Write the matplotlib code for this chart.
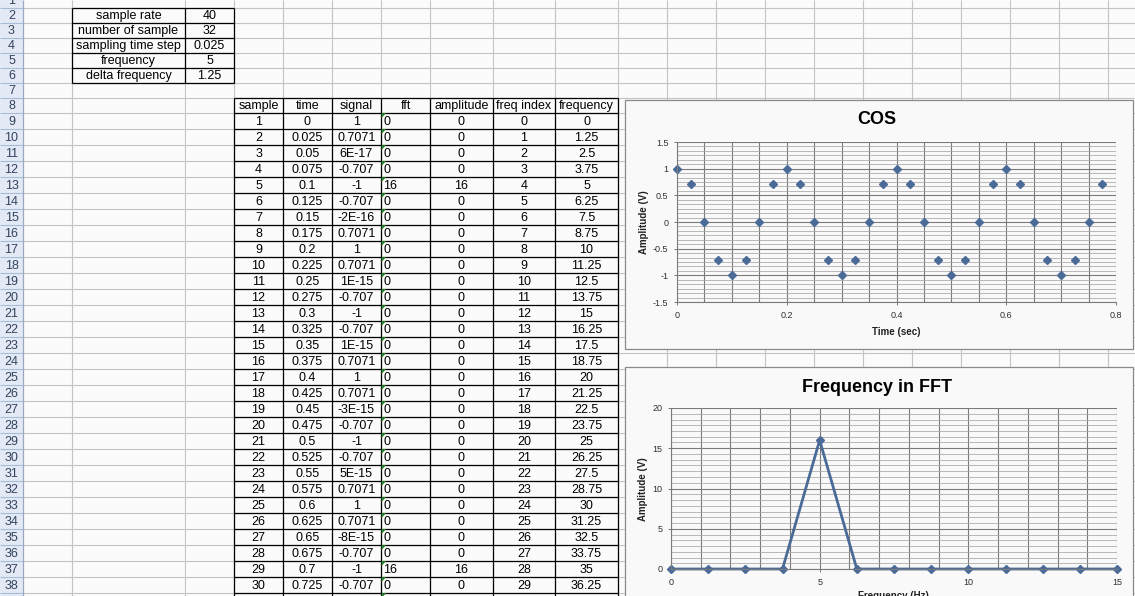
"""
Spreadsheet view of a 32-sample cosine and its FFT, with the two Excel charts.
"""

import matplotlib
matplotlib.use("Agg")
import matplotlib.pyplot as plt
from matplotlib.patches import Rectangle, Polygon
from matplotlib.ticker import MultipleLocator, FuncFormatter

plt.rcParams.update({
    "font.family": ["Liberation Sans", "DejaVu Sans"],
    "axes.unicode_minus": False,
})

W, H = 1135, 596

# ---------------------------------------------------------------------------
# Data
# ---------------------------------------------------------------------------
param_labels = ["sample rate", "number of sample", "sampling time step",
                "frequency", "delta frequency"]
param_values = ["40", "32", "0.025", "5", "1.25"]

header_labels = ["sample", "time", "signal", "fft", "amplitude",
                 "freq index", "frequency"]

sample_no = [1, 2, 3, 4, 5, 6, 7, 8, 9, 10, 11, 12, 13, 14, 15,
             16, 17, 18, 19, 20, 21, 22, 23, 24, 25, 26, 27, 28, 29, 30]

# full 32-sample record (the COS chart uses all of it)
t_sec = [0, 0.025, 0.05, 0.075, 0.1, 0.125, 0.15, 0.175,
         0.2, 0.225, 0.25, 0.275, 0.3, 0.325, 0.35, 0.375,
         0.4, 0.425, 0.45, 0.475, 0.5, 0.525, 0.55, 0.575,
         0.6, 0.625, 0.65, 0.675, 0.7, 0.725, 0.75, 0.775]
signal_v = [1, 0.7071, 0, -0.7071, -1, -0.7071, 0, 0.7071,
            1, 0.7071, 0, -0.7071, -1, -0.7071, 0, 0.7071,
            1, 0.7071, 0, -0.7071, -1, -0.7071, 0, 0.7071,
            1, 0.7071, 0, -0.7071, -1, -0.7071, 0, 0.7071]

signal_txt = ["1", "0.7071", "6E-17", "-0.707", "-1", "-0.707", "-2E-16", "0.7071",
              "1", "0.7071", "1E-15", "-0.707", "-1", "-0.707", "1E-15", "0.7071",
              "1", "0.7071", "-3E-15", "-0.707", "-1", "-0.707", "5E-15", "0.7071",
              "1", "0.7071", "-8E-15", "-0.707", "-1", "-0.707"]
fft_txt = ["0", "0", "0", "0", "16", "0", "0", "0", "0", "0",
           "0", "0", "0", "0", "0", "0", "0", "0", "0", "0",
           "0", "0", "0", "0", "0", "0", "0", "0", "16", "0"]
amplitude = [0, 0, 0, 0, 16, 0, 0, 0, 0, 0,
             0, 0, 0, 0, 0, 0, 0, 0, 0, 0,
             0, 0, 0, 0, 0, 0, 0, 0, 16, 0]
freq_index = [0, 1, 2, 3, 4, 5, 6, 7, 8, 9, 10, 11, 12, 13, 14,
              15, 16, 17, 18, 19, 20, 21, 22, 23, 24, 25, 26, 27, 28, 29]
frequency = [0, 1.25, 2.5, 3.75, 5, 6.25, 7.5, 8.75, 10, 11.25,
             12.5, 13.75, 15, 16.25, 17.5, 18.75, 20, 21.25, 22.5, 23.75,
             25, 26.25, 27.5, 28.75, 30, 31.25, 32.5, 33.75, 35, 36.25]
N_FFT_PLOT = 13   # FFT chart shows bins up to 15 Hz

# ---------------------------------------------------------------------------
# Colours
# ---------------------------------------------------------------------------
SHEET_BG   = "#fbfbfb"
SHEET_GRID = "#c4c4c4"
HDR_BG     = "#e3eaf5"
HDR_LINE   = "#a9bcd6"
HDR_TXT    = "#34425c"
CHART_BG   = "#f9f9f9"
FRAME      = "#8a8a8a"
GRID_MAJ   = "#7a7a7a"
GRID_MIN   = "#a6a6a6"
SERIES     = "#4a6b98"
ERR_GREEN  = "#23802a"

CELL_FS = 9.0

# column edges (px) and row geometry of the sheet
col_edges = [23, 72, 185, 234, 283, 332, 381, 430, 493, 555, 618,
             667, 716, 765, 814, 863, 912, 961, 1010, 1059, 1108]


def row_bottom(k):
    if k <= 0:
        return -7.5
    if k <= 8:
        return 7.5 + 15 * (k - 1)
    return 112.5 + 16 * (k - 8)


def row_top(k):
    return row_bottom(k - 1)


def row_mid(k):
    return 0.5 * (row_top(k) + row_bottom(k))


fig = plt.figure(figsize=(W / 100, H / 100), dpi=100, facecolor=SHEET_BG)
ax = fig.add_axes([0, 0, 1, 1])
ax.set_xlim(0, W)
ax.set_ylim(H, 0)
ax.axis("off")
ax.add_patch(Rectangle((0, 0), W, H, facecolor=SHEET_BG, edgecolor="none", zorder=0))

# --- sheet gridlines -------------------------------------------------------
ax.vlines(col_edges[1:], 0, H, colors=SHEET_GRID, lw=0.8, zorder=1)
ax.hlines([row_bottom(k) for k in range(1, 40)], 23, W, colors=SHEET_GRID, lw=0.8, zorder=1)

# --- row header column -----------------------------------------------------
ax.add_patch(Rectangle((0, 0), 23, H, facecolor=HDR_BG, edgecolor="none", zorder=2))
ax.hlines([row_bottom(k) for k in range(1, 40)], 0, 23, colors=HDR_LINE, lw=0.8, zorder=3)
ax.vlines([23], 0, H, colors="#9aa9bf", lw=0.9, zorder=3)
for k in range(1, 39):
    ax.text(11.5, row_mid(k) + 4.4, str(k), ha="center", va="baseline",
            fontsize=CELL_FS, color=HDR_TXT, zorder=4)

# --- parameter block (B2:C6) ----------------------------------------------
BLK = "#000000"
ax.vlines([72, 185, 234], row_top(2), row_bottom(6), colors=BLK, lw=0.9, zorder=4)
ax.hlines([row_top(2)] + [row_bottom(k) for k in range(2, 7)], 72, 234,
          colors=BLK, lw=0.9, zorder=4)
for i, (lab, val) in enumerate(zip(param_labels, param_values)):
    y = row_mid(2 + i) + 4.4
    ax.text(128.5, y, lab, ha="center", va="baseline", fontsize=CELL_FS, zorder=5)
    ax.text(209.5, y, val, ha="center", va="baseline", fontsize=CELL_FS, zorder=5)

# --- main table (D8:J...) --------------------------------------------------
tbl_cols = [234, 283, 332, 381, 430, 493, 555, 618]
ax.vlines(tbl_cols, row_top(8), H + 10, colors=BLK, lw=0.9, zorder=4)
ax.hlines([row_top(8)] + [row_bottom(k) for k in range(8, 40)], 234, 618,
          colors=BLK, lw=0.9, zorder=4)
centers = [0.5 * (tbl_cols[j] + tbl_cols[j + 1]) for j in range(7)]
for j, lab in enumerate(header_labels):
    ax.text(centers[j], row_mid(8) + 4.4, lab, ha="center", va="baseline",
            fontsize=CELL_FS, zorder=5)

for i in range(len(sample_no)):
    r = 9 + i
    y = row_mid(r) + 4.4
    cells = [str(sample_no[i]), f"{t_sec[i]:g}", signal_txt[i], None,
             str(amplitude[i]), str(freq_index[i]), f"{frequency[i]:g}"]
    for j, txt in enumerate(cells):
        if txt is None:
            continue
        ax.text(centers[j], y, txt, ha="center", va="baseline",
                fontsize=CELL_FS, zorder=5)
    # fft column holds text-formatted numbers: left aligned
    ax.text(383, y, fft_txt[i], ha="left", va="baseline", fontsize=CELL_FS, zorder=5)

# green "number stored as text" markers
for r in range(9, 40):
    t = row_top(r) + 0.6
    ax.add_patch(Polygon([(381.6, t), (386.2, t), (381.6, t + 4.6)], closed=True,
                         facecolor=ERR_GREEN, edgecolor="none", zorder=6))

# --- chart frames ---------------------------------------------------------
ax.add_patch(Rectangle((625, 100), 508, 249, facecolor=CHART_BG,
                       edgecolor=FRAME, lw=0.9, zorder=7))
ax.add_patch(Rectangle((625, 367.3), 508, 260, facecolor=CHART_BG,
                       edgecolor=FRAME, lw=0.9, zorder=7))

ax.text(877, 124.3, "COS", ha="center", va="baseline", fontsize=13,
        fontweight="bold", zorder=8)
ax.text(876.8, 391.6, "Frequency in FFT", ha="center", va="baseline", fontsize=13,
        fontweight="bold", zorder=8)
ax.text(896, 335, "Time (sec)", ha="center", va="baseline", fontsize=7,
        fontweight="bold", color="#222222", zorder=8)
ax.text(893.7, 599, "Frequency (Hz)", ha="center", va="baseline", fontsize=7,
        fontweight="bold", color="#222222", zorder=8)
ax.text(644, 222.5, "Amplitude (V)", ha="center", va="center", rotation=90,
        fontsize=7, fontweight="bold", color="#222222", zorder=8)
ax.text(643, 489, "Amplitude (V)", ha="center", va="center", rotation=90,
        fontsize=7, fontweight="bold", color="#222222", zorder=8)


def px_axes(left, top, right, bottom):
    return fig.add_axes([left / W, 1 - bottom / H, (right - left) / W, (bottom - top) / H])


def style_chart(a, xlim, xmaj, xmin, ylim, ymaj, ymin):
    a.set_facecolor(CHART_BG)
    a.set_xlim(*xlim)
    a.set_ylim(*ylim)
    a.xaxis.set_major_locator(MultipleLocator(xmaj))
    a.xaxis.set_minor_locator(MultipleLocator(xmin))
    a.yaxis.set_major_locator(MultipleLocator(ymaj))
    a.yaxis.set_minor_locator(MultipleLocator(ymin))
    fmt = FuncFormatter(lambda v, _: f"{v:g}")
    a.xaxis.set_major_formatter(fmt)
    a.yaxis.set_major_formatter(fmt)
    a.set_axisbelow(True)
    a.grid(which="major", color=GRID_MAJ, lw=0.8)
    a.grid(which="minor", axis="x", color=GRID_MAJ, lw=0.8)
    a.grid(which="minor", axis="y", color=GRID_MIN, lw=0.55)
    a.tick_params(which="minor", length=0)
    a.tick_params(which="major", length=2.2, width=0.7, color=GRID_MAJ,
                  labelsize=6.5, labelcolor="#303030")
    a.tick_params(axis="y", pad=4.0)
    a.tick_params(axis="x", pad=4.6)
    for s in ("top", "right"):
        a.spines[s].set_visible(False)
    for s in ("left", "bottom"):
        a.spines[s].set_color(GRID_MAJ)
        a.spines[s].set_linewidth(0.8)


# --- COS chart -------------------------------------------------------------
ax1 = px_axes(677, 142, 1116, 302)
style_chart(ax1, (0, 0.8), 0.2, 0.05, (-1.5, 1.5), 0.5, 0.5 / 6)
ax1.plot(t_sec, signal_v, "D", ms=3.7, color=SERIES, mec=SERIES, clip_on=False)

# --- FFT chart -------------------------------------------------------------
ax2 = px_axes(671, 408, 1117, 569)
style_chart(ax2, (0, 15), 5, 1, (0, 20), 5, 5 / 7)
ax2.plot(frequency[:N_FFT_PLOT], amplitude[:N_FFT_PLOT], "-D", lw=2.0, ms=3.8,
         color=SERIES, mec=SERIES, clip_on=False)

fig.savefig("out.png", dpi=100, facecolor=SHEET_BG)
